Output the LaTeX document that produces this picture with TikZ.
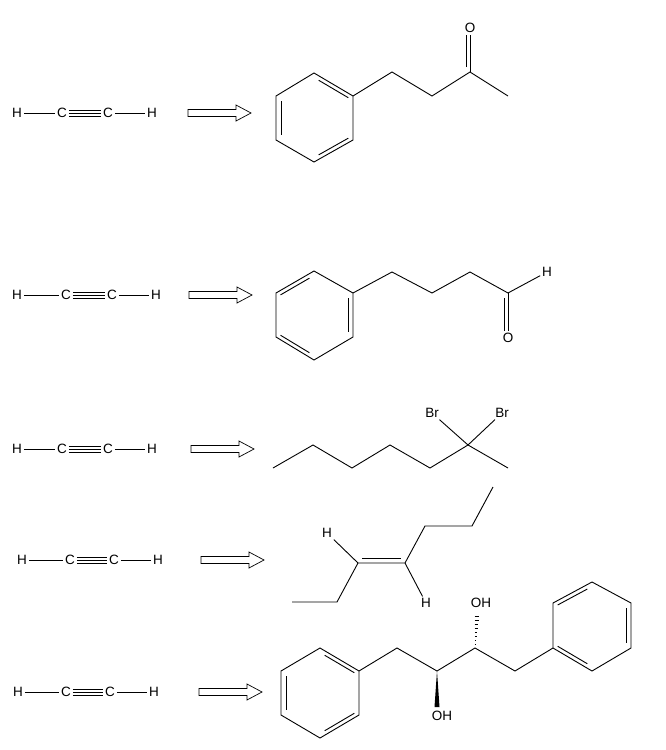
\documentclass[tikz,border=0pt]{standalone}
\usepackage{fontspec}
\setmainfont{Liberation Sans}
\usetikzlibrary{calc}
\begin{document}
\begin{tikzpicture}[x=1pt,y=-1pt,line width=0.9pt,
  atom/.style={font=\fontsize{13.5}{14}\selectfont,inner sep=1.5pt},
  bond/.style={line width=0.8pt}]
\useasboundingbox (0,0) rectangle (665,750);
% acetylenes and arrows
\foreach \r/\xa/\ya/\xb/\xc/\xd/\ax in {1/17/113/62/108/152/188, 2/17/295/66/112/156/189, 3/17/449/62/108/152/191, 4/22/560/70/114/158/201, 5/18/692/66/110/154/199}{
  \node[atom] (h1\r) at (\xa,\ya) {H};
  \node[atom] (c1\r) at (\xb,\ya) {C};
  \node[atom] (c2\r) at (\xc,\ya) {C};
  \node[atom] (h2\r) at (\xd,\ya) {H};
  \draw (h1\r) -- (c1\r) (c2\r) -- (h2\r);
  \draw ([yshift=-3pt]c1\r.east) -- ([yshift=-3pt]c2\r.west)
        (c1\r.east) -- (c2\r.west)
        ([yshift=3pt]c1\r.east) -- ([yshift=3pt]c2\r.west);
  \draw[line width=0.7pt] (\ax,\ya-3.5) -- (\ax+48,\ya-3.5) -- (\ax+48,\ya-8) -- (\ax+63,\ya) -- (\ax+48,\ya+8) -- (\ax+48,\ya+3.5) -- (\ax,\ya+3.5) -- cycle;
}
% molecule 1
\coordinate (a1) at (314,73); \coordinate (a2) at (353,96); \coordinate (a3) at (353,140);
\coordinate (a4) at (314,162); \coordinate (a5) at (276,140); \coordinate (a6) at (276,96);
\draw (a1)--(a2)--(a3)--(a4)--(a5)--(a6)--cycle;
\draw ($(a1)!0.12!(a2)+(0,4.5)$) -- ($(a1)!0.88!(a2)+(0,4.5)$);
\draw ($(a3)!0.12!(a4)+(0,-4.5)$) -- ($(a3)!0.88!(a4)+(0,-4.5)$);
\draw ($(a5)!0.12!(a6)+(5,0)$) -- ($(a5)!0.88!(a6)+(5,0)$);
\coordinate (b1) at (392,72); \coordinate (b2) at (432,96); \coordinate (b3) at (470,72); \coordinate (b4) at (508,96);
\node[atom] (o1) at (470,28) {O};
\draw (a2)--(b1)--(b2)--(b3)--(b4);
\draw (b3)--(o1); \draw ([xshift=-4pt]b3) ++(0,-5) -- ([xshift=-4pt]o1.south);
% molecule 2
\coordinate (d1) at (314,271); \coordinate (d2) at (353,293); \coordinate (d3) at (353,337);
\coordinate (d4) at (314,360); \coordinate (d5) at (276,337); \coordinate (d6) at (276,293);
\draw (d1)--(d2)--(d3)--(d4)--(d5)--(d6)--cycle;
\draw ($(d6)!0.12!(d1)+(0,4.5)$) -- ($(d6)!0.88!(d1)+(0,4.5)$);
\draw ($(d4)!0.12!(d5)+(0,-4.5)$) -- ($(d4)!0.88!(d5)+(0,-4.5)$);
\draw ($(d2)!0.12!(d3)+(-5,0)$) -- ($(d2)!0.88!(d3)+(-5,0)$);
\coordinate (e1) at (392,272); \coordinate (e2) at (432,293); \coordinate (e3) at (470,272); \coordinate (e4) at (508,293);
\node[atom] (h21) at (547,272) {H};
\node[atom] (o2) at (508,338) {O};
\draw (d2)--(e1)--(e2)--(e3)--(e4)--(h21);
\draw (e4)--(o2); \draw ([xshift=-4pt]e4) ++(0,5) -- ([xshift=-4pt]o2.north);
% molecule 3
\node[atom] (br1) at (432,413) {Br};
\node[atom] (br2) at (502,413) {Br};
\coordinate (f1) at (273,468); \coordinate (f2) at (313,445); \coordinate (f3) at (352,468);
\coordinate (f4) at (390,445); \coordinate (f5) at (430,468); \coordinate (f6) at (468,445); \coordinate (f7) at (508,468);
\draw (f1)--(f2)--(f3)--(f4)--(f5)--(f6)--(f7);
\draw (f6)--(br1); \draw (f6)--(br2);
% molecule 4
\coordinate (g1) at (292,602); \coordinate (g2) at (337,602); \coordinate (g3) at (358,563); \coordinate (g4) at (405,563);
\coordinate (g5) at (425,526); \coordinate (g6) at (472,526); \coordinate (g7) at (493,487);
\node[atom] (h41) at (327,533) {H};
\node[atom] (h42) at (426,603) {H};
\draw (g1)--(g2)--(g3)--(g4)--(g5)--(g6)--(g7);
\draw ([xshift=4pt,yshift=5pt]g3) -- ([xshift=-4pt,yshift=5pt]g4);
\draw (g3)--(h41); \draw (g4)--(h42);
% molecule 5
\coordinate (k1) at (320,648); \coordinate (k2) at (359,671); \coordinate (k3) at (359,715);
\coordinate (k4) at (320,738); \coordinate (k5) at (281,715); \coordinate (k6) at (281,671);
\draw (k1)--(k2)--(k3)--(k4)--(k5)--(k6)--cycle;
\draw ($(k1)!0.12!(k2)+(0,4.5)$) -- ($(k1)!0.88!(k2)+(0,4.5)$);
\draw ($(k3)!0.12!(k4)+(0,-4.5)$) -- ($(k3)!0.88!(k4)+(0,-4.5)$);
\draw ($(k5)!0.12!(k6)+(5,0)$) -- ($(k5)!0.88!(k6)+(5,0)$);
\coordinate (m1) at (397,648); \coordinate (m2) at (437,671); \coordinate (m3) at (475,648); \coordinate (m4) at (515,671);
\coordinate (n1) at (553,648); \coordinate (n2) at (553,603); \coordinate (n3) at (592,582);
\coordinate (n4) at (631,603); \coordinate (n5) at (631,648); \coordinate (n6) at (592,671);
\draw (k2)--(m1)--(m2)--(m3)--(m4)--(n1);
\draw (n1)--(n2)--(n3)--(n4)--(n5)--(n6)--cycle;
\draw ($(n2)!0.12!(n3)+(0,4.5)$) -- ($(n2)!0.88!(n3)+(0,4.5)$);
\draw ($(n6)!0.12!(n1)+(0,-4.5)$) -- ($(n6)!0.88!(n1)+(0,-4.5)$);
\draw ($(n4)!0.12!(n5)+(-5,0)$) -- ($(n4)!0.88!(n5)+(-5,0)$);
\node[atom] (oh1) at (442,716) {OH};
\node[atom] (oh2) at (481,603) {OH};
\fill (m2) -- (439.5,707) -- (434.5,707) -- cycle;
\foreach \t in {0.1,0.22,...,0.95}{
  \draw[line width=0.7pt] ($(m3)!\t!(477,614)+(-2.5*\t,0)$) -- ($(m3)!\t!(477,614)+(2.5*\t,0)$);
}
\end{tikzpicture}
\end{document}
